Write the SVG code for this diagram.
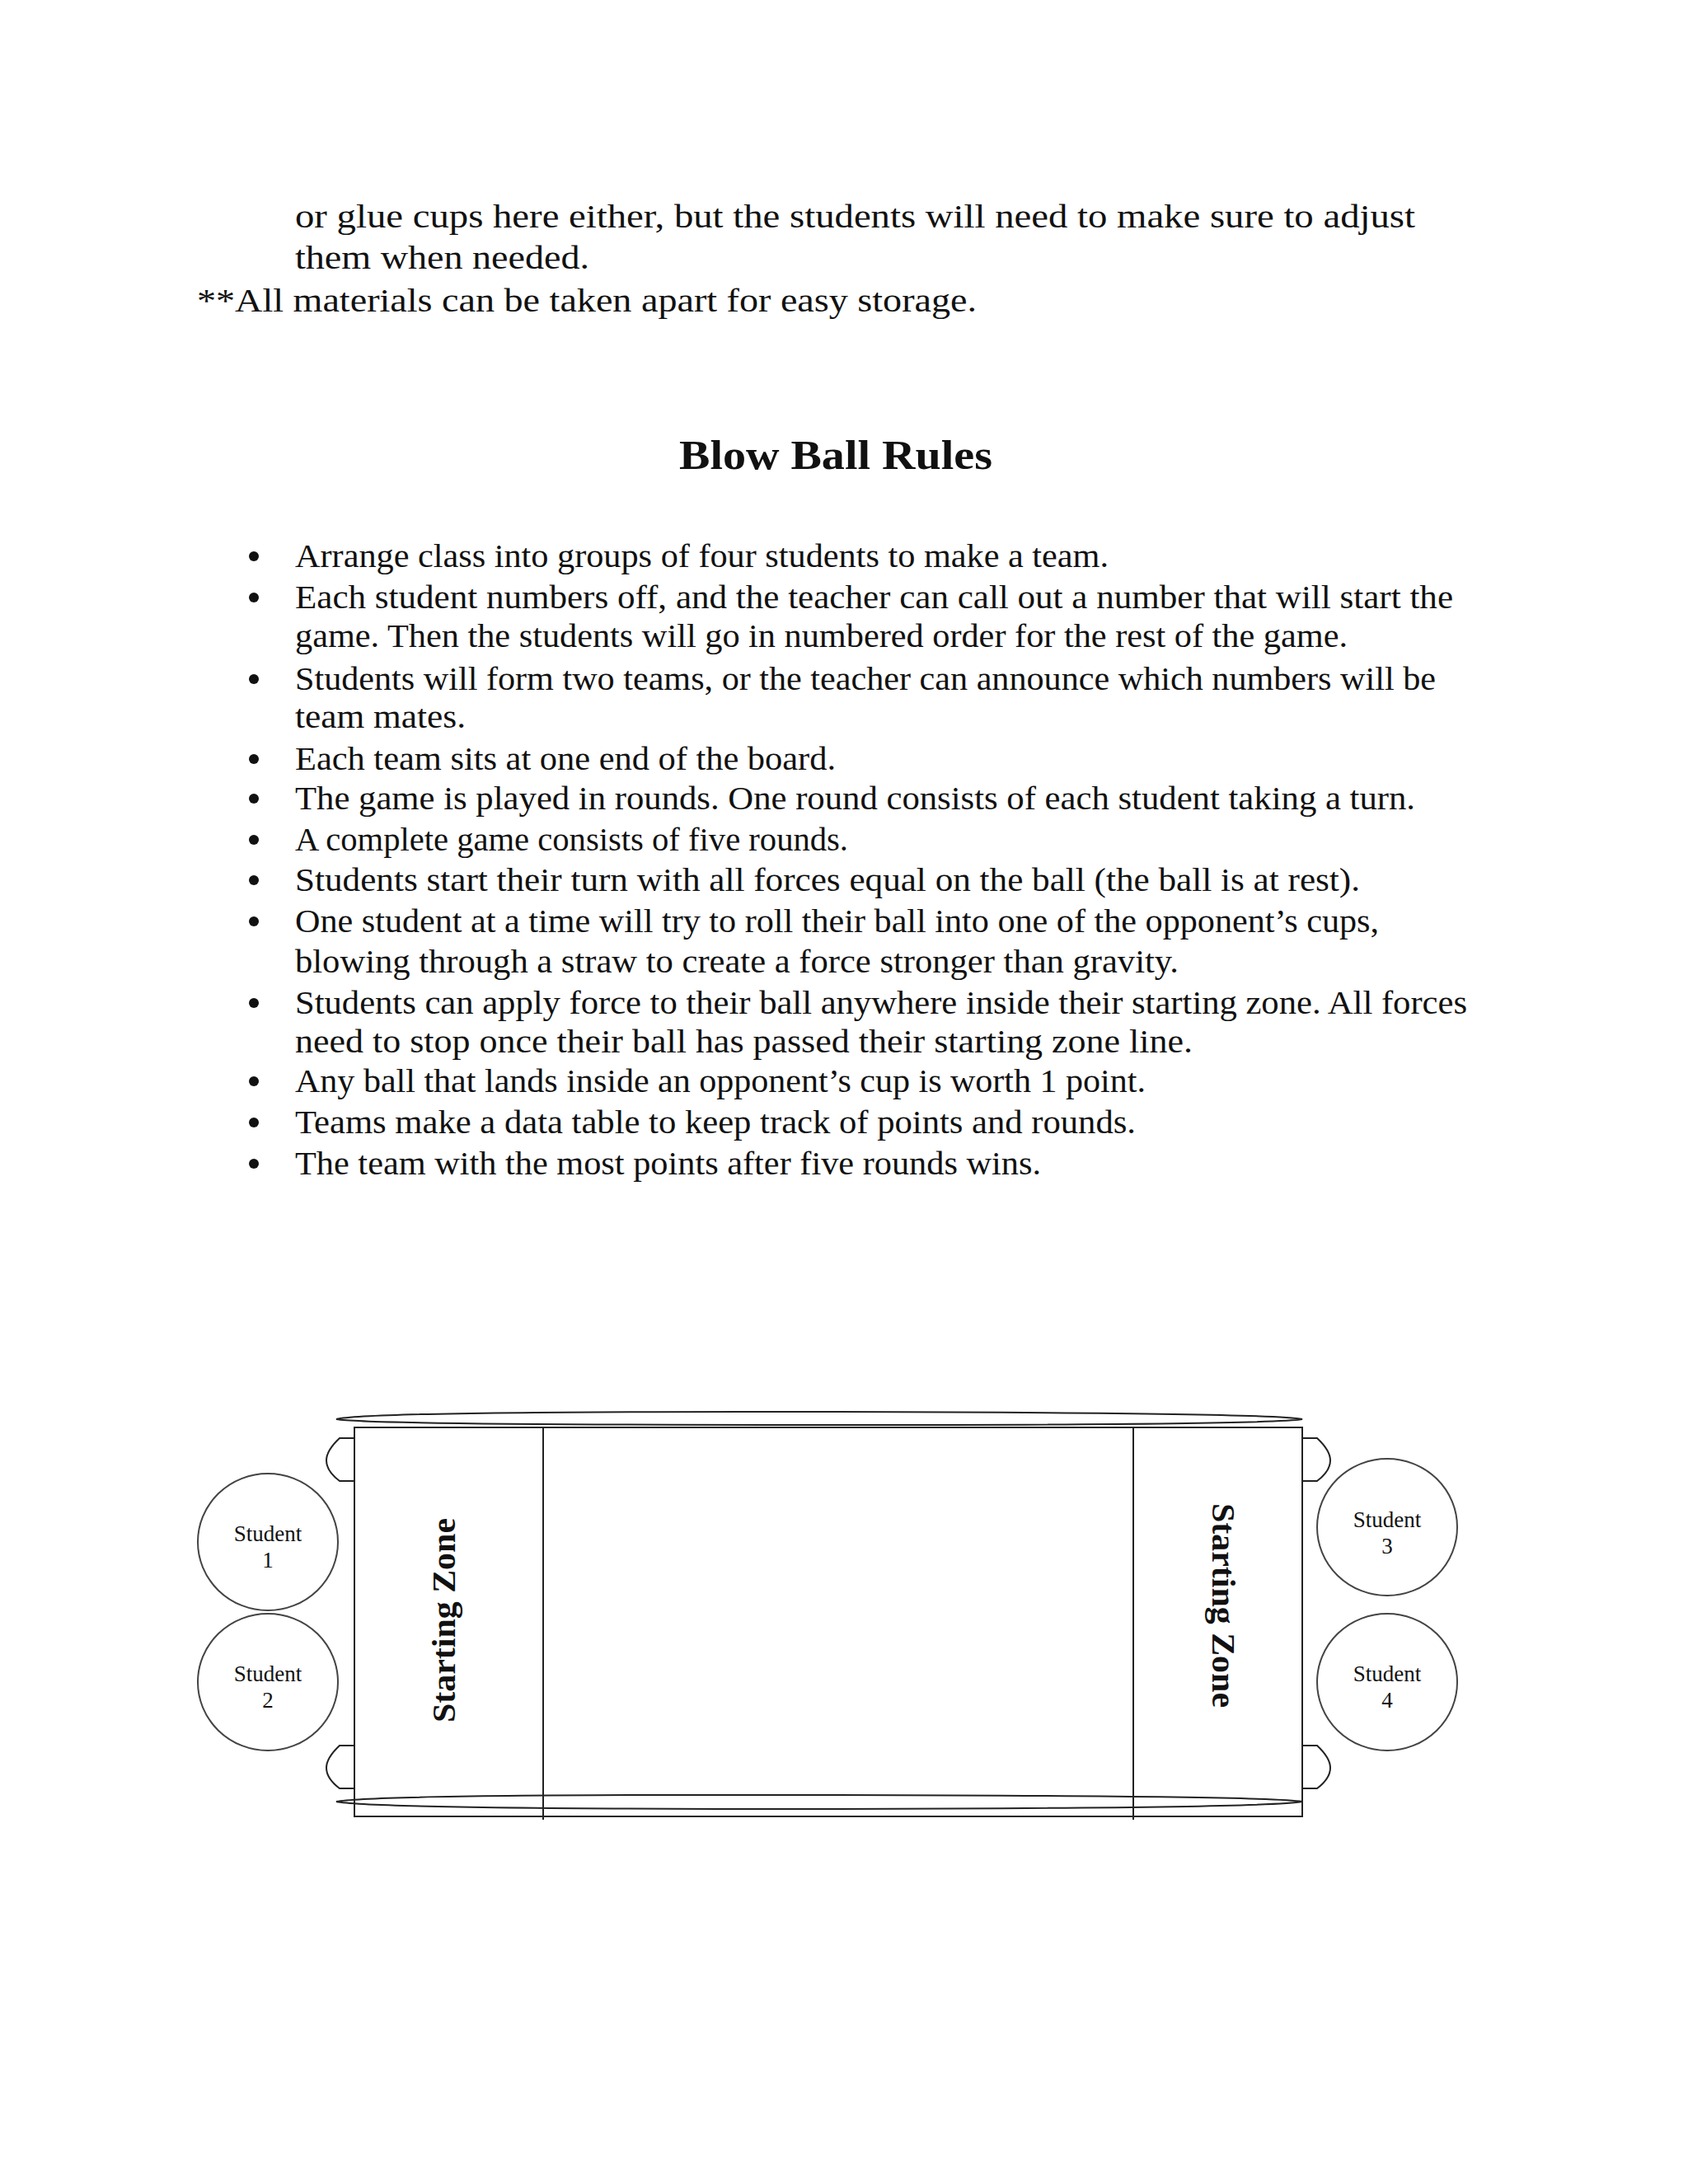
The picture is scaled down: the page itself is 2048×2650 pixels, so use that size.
<svg xmlns="http://www.w3.org/2000/svg" width="2048" height="2650" viewBox="0 0 2048 2650">
<style>
.t{font-family:"Liberation Serif","DejaVu Serif",serif;font-size:40px;fill:#111}
.h{font-family:"Liberation Serif","DejaVu Serif",serif;font-size:50px;font-weight:bold;fill:#111}
.s{font-family:"Liberation Serif","DejaVu Serif",serif;font-size:27px;fill:#111;text-anchor:middle}
.z{font-family:"Liberation Serif","DejaVu Serif",serif;font-size:40px;font-weight:bold;fill:#111;text-anchor:middle}
.ln{fill:none;stroke:#222;stroke-width:2}
.c{fill:#fff;stroke:#444;stroke-width:2}
</style>
<rect width="2048" height="2650" fill="#fff"/>
<g id="text">
<text class="t" x="358" y="276" textLength="1359" lengthAdjust="spacingAndGlyphs">or glue cups here either, but the students will need to make sure to adjust</text>
<text class="t" x="358" y="326" textLength="357" lengthAdjust="spacingAndGlyphs">them when needed.</text>
<text class="t" x="239" y="378" textLength="946" lengthAdjust="spacingAndGlyphs">**All materials can be taken apart for easy storage.</text>
<text class="h" x="1014" y="569" text-anchor="middle" textLength="380" lengthAdjust="spacingAndGlyphs">Blow Ball Rules</text>
<g fill="#111">
<circle cx="308" cy="675" r="6"/><circle cx="308" cy="725" r="6"/><circle cx="308" cy="824" r="6"/><circle cx="308" cy="921" r="6"/><circle cx="308" cy="969" r="6"/><circle cx="308" cy="1019" r="6"/><circle cx="308" cy="1068" r="6"/><circle cx="308" cy="1118" r="6"/><circle cx="308" cy="1217" r="6"/><circle cx="308" cy="1312" r="6"/><circle cx="308" cy="1362" r="6"/><circle cx="308" cy="1412" r="6"/>
</g>
<text class="t" x="358" y="688" textLength="987" lengthAdjust="spacingAndGlyphs">Arrange class into groups of four students to make a team.</text>
<text class="t" x="358" y="738" textLength="1405" lengthAdjust="spacingAndGlyphs">Each student numbers off, and the teacher can call out a number that will start the</text>
<text class="t" x="358" y="785" textLength="1277" lengthAdjust="spacingAndGlyphs">game. Then the students will go in numbered order for the rest of the game.</text>
<text class="t" x="358" y="837" textLength="1384" lengthAdjust="spacingAndGlyphs">Students will form two teams, or the teacher can announce which numbers will be</text>
<text class="t" x="358" y="883" textLength="207" lengthAdjust="spacingAndGlyphs">team mates.</text>
<text class="t" x="358" y="934" textLength="656" lengthAdjust="spacingAndGlyphs">Each team sits at one end of the board.</text>
<text class="t" x="358" y="982" textLength="1359" lengthAdjust="spacingAndGlyphs">The game is played in rounds.  One round consists of each student taking a turn.</text>
<text class="t" x="358" y="1032" textLength="671" lengthAdjust="spacingAndGlyphs">A complete game consists of five rounds.</text>
<text class="t" x="358" y="1081" textLength="1292" lengthAdjust="spacingAndGlyphs">Students start their turn with all forces equal on the ball (the ball is at rest).</text>
<text class="t" x="358" y="1131" textLength="1315" lengthAdjust="spacingAndGlyphs">One student at a time will try to roll their ball into one of the opponent’s cups,</text>
<text class="t" x="358" y="1180" textLength="1072" lengthAdjust="spacingAndGlyphs">blowing through a straw to create a force stronger than gravity.</text>
<text class="t" x="358" y="1230" textLength="1422" lengthAdjust="spacingAndGlyphs">Students can apply force to their ball anywhere inside their starting zone.  All forces</text>
<text class="t" x="358" y="1277" textLength="1089" lengthAdjust="spacingAndGlyphs">need to stop once their ball has passed their starting zone line.</text>
<text class="t" x="358" y="1325" textLength="1032" lengthAdjust="spacingAndGlyphs">Any ball that lands inside an opponent’s cup is worth 1 point.</text>
<text class="t" x="358" y="1375" textLength="1020" lengthAdjust="spacingAndGlyphs">Teams make a data table to keep track of points and rounds.</text>
<text class="t" x="358" y="1425" textLength="905" lengthAdjust="spacingAndGlyphs">The team with the most points after five rounds wins.</text>
</g>
<g id="board">
<path class="ln" d="M408 1722 Q450 1712 994 1713 Q1540 1714 1580 1722 Q1540 1729 994 1729 Q450 1729 408 1722 Z" stroke-width="2.5"/>
<path class="ln" d="M408 2186 Q450 2177 994 2178 Q1540 2179 1580 2186 Q1540 2194 994 2195 Q450 2195 408 2186 Z" stroke-width="2.5"/>
<rect class="ln" x="430" y="1732" width="1150" height="472" stroke-width="3"/>
<line class="ln" x1="659" y1="1732" x2="659" y2="2208"/>
<line class="ln" x1="1375" y1="1732" x2="1375" y2="2208"/>
</g>
<g id="cups">
<path class="ln" d="M430 1745 L412 1745 Q396 1760 396 1772 Q396 1785 412 1797 L430 1797"/>
<path class="ln" d="M430 2118 L412 2118 Q396 2133 396 2145 Q396 2158 412 2170 L430 2170"/>
<path class="ln" d="M1580 1745 L1598 1745 Q1614 1760 1614 1772 Q1614 1785 1598 1797 L1580 1797"/>
<path class="ln" d="M1580 2118 L1598 2118 Q1614 2133 1614 2145 Q1614 2158 1598 2170 L1580 2170"/>
</g>
<g id="zone-left"><text class="z" transform="translate(552 1966) rotate(-90)" textLength="248" lengthAdjust="spacingAndGlyphs">Starting Zone</text></g>
<g id="zone-right"><text class="z" transform="translate(1471 1948) rotate(90)" textLength="248" lengthAdjust="spacingAndGlyphs">Starting Zone</text></g>
<g id="student1"><ellipse class="c" cx="325" cy="1871" rx="85" ry="83"/><text class="s" x="325" y="1870">Student</text><text class="s" x="325" y="1902">1</text></g>
<g id="student2"><ellipse class="c" cx="325" cy="2041" rx="85" ry="83"/><text class="s" x="325" y="2040">Student</text><text class="s" x="325" y="2072">2</text></g>
<g id="student3"><ellipse class="c" cx="1683" cy="1853" rx="85" ry="83"/><text class="s" x="1683" y="1853">Student</text><text class="s" x="1683" y="1885">3</text></g>
<g id="student4"><ellipse class="c" cx="1683" cy="2041" rx="85" ry="83"/><text class="s" x="1683" y="2040">Student</text><text class="s" x="1683" y="2072">4</text></g>
</svg>
